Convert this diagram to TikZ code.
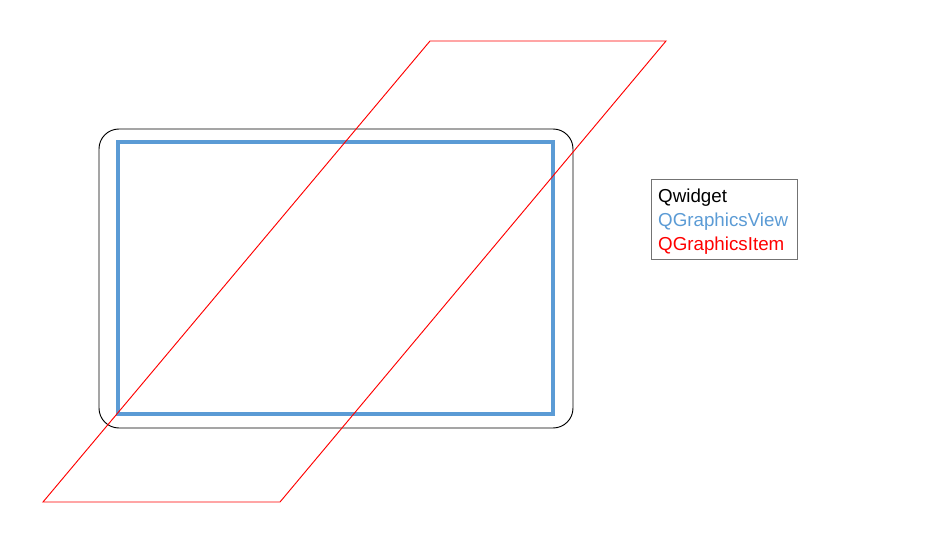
\documentclass[tikz,border=0pt]{standalone}
\usepackage{fontspec}
\setmainfont{Liberation Sans}
\usetikzlibrary{positioning}
\definecolor{viewblue}{RGB}{91,155,213}
\tikzset{
	widgetbox/.style={draw=black, line width=0.8pt, rounded corners=17pt},
	viewbox/.style={draw=viewblue, line width=2.6pt},
	itembox/.style={draw=red, line width=0.8pt},
	legendtext/.style={anchor=west, inner sep=0pt, font=\fontsize{16}{18}\selectfont},
}
\begin{document}
\begin{tikzpicture}[x=0.03cm, y=-0.03cm]
		%%%%% START %%%%%
		\useasboundingbox (0, 0) rectangle (927, 542);
		
		\draw[widgetbox] (99, 129) rectangle (573, 428);
		\draw[viewbox] (118, 142) rectangle (553, 414);
		\draw[itembox] (430, 41) -- (666, 41) -- (280, 502) -- (43, 502) -- cycle;
		
		\draw[draw=black!55, line width=0.8pt] (651, 179) rectangle (797, 259);
		\node[legendtext] (qwidget) at (658, 197.5) {Qwidget};
		\node[legendtext, text=viewblue] (qview) at (658, 221.5) {QGraphicsView};
		\node[legendtext, text=red] (qitem) at (658, 245.5) {QGraphicsItem};
		
		%%%%% END %%%%%
\end{tikzpicture}
\end{document}
